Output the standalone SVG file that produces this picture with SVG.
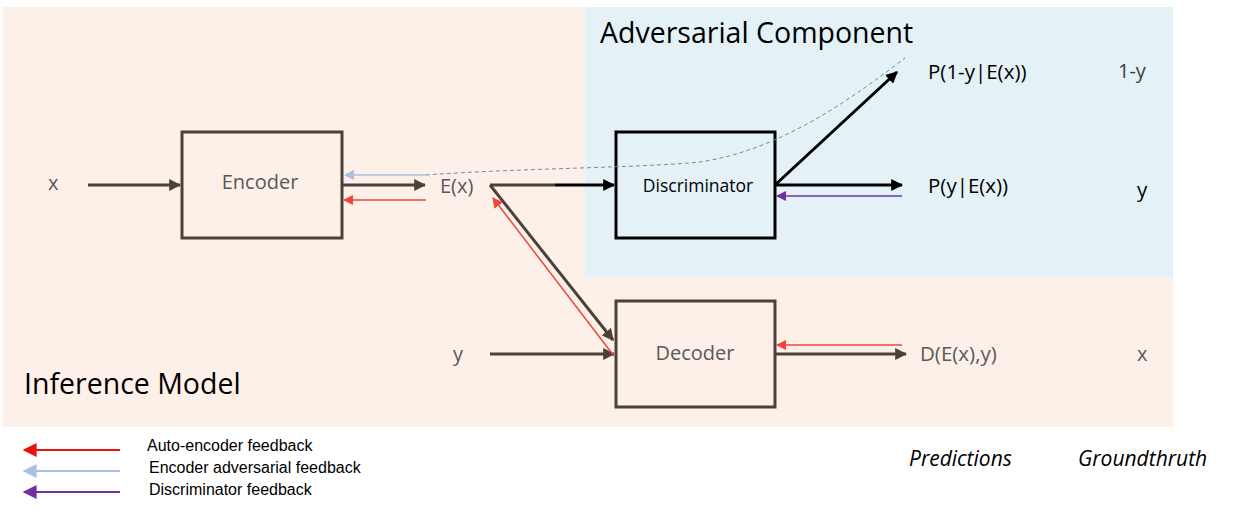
<svg xmlns="http://www.w3.org/2000/svg" width="1246" height="515" viewBox="0 0 1246 515">
<defs>
<style>
text{font-family:"Open Sans","Noto Sans",sans-serif}
.lbl{font-size:20px;fill:#595959}
.blk{font-size:20.5px;fill:#000}
.box{fill:none;stroke:#4d4039;stroke-width:3}
.ar{stroke:#4d4039;stroke-width:3;fill:none}
.ak{stroke:#000;stroke-width:3;fill:none}
.red{stroke:#f0453a;stroke-width:1.5;fill:none}
.leg{font-family:"Liberation Sans",sans-serif;font-size:16px;fill:#000}
</style>
<marker id="mb" viewBox="0 0 10 10" refX="9" refY="5" markerWidth="4" markerHeight="4" orient="auto"><path d="M0,0L10,5L0,10z" fill="#4d4039"/></marker>
<marker id="mk" viewBox="0 0 10 10" refX="9" refY="5" markerWidth="4" markerHeight="4" orient="auto"><path d="M0,0L10,5L0,10z" fill="#000"/></marker>
<marker id="mr" viewBox="0 0 10 10" refX="9" refY="5" markerWidth="7" markerHeight="7" orient="auto"><path d="M0,0L10,5L0,10z" fill="#f0453a"/></marker>
<marker id="mR" viewBox="0 0 10 10" refX="9" refY="5" markerWidth="7" markerHeight="7" orient="auto"><path d="M0,0L10,5L0,10z" fill="#e8140c"/></marker>
<marker id="ml" viewBox="0 0 10 10" refX="9" refY="5" markerWidth="7" markerHeight="7" orient="auto"><path d="M0,0L10,5L0,10z" fill="#a7c0e3"/></marker>
<marker id="mp" viewBox="0 0 10 10" refX="9" refY="5" markerWidth="7" markerHeight="7" orient="auto"><path d="M0,0L10,5L0,10z" fill="#7030a0"/></marker>
</defs>
<rect width="1246" height="515" fill="#fff"/>
<rect x="3" y="7" width="1170" height="420" fill="#fdf0e8"/>
<rect x="585" y="7" width="588" height="270" fill="#e4f2f7"/>
<text x="600" y="43" style="font-size:28.5px" fill="#000">Adversarial Component</text>
<text x="24" y="394" style="font-size:28.5px" fill="#000">Inference Model</text>
<g id="encoder"><rect class="box" x="182" y="132" width="160" height="106"/><text class="lbl" x="260" y="189" text-anchor="middle">Encoder</text></g>
<g id="discriminator"><rect x="616" y="132" width="159" height="106" fill="none" stroke="#000" stroke-width="3"/><text x="698" y="192" text-anchor="middle" style="font-size:17.5px" fill="#000">Discriminator</text></g>
<g id="decoder"><rect class="box" x="616" y="301" width="159" height="106"/><text class="lbl" x="695" y="360" text-anchor="middle">Decoder</text></g>
<g id="labels">
<text class="lbl" x="48" y="190">x</text>
<text class="lbl" x="440" y="193">E(x)</text>
<text class="lbl" x="453" y="361">y</text>
<text class="blk" x="928" y="79">P(1-y|E(x))</text>
<text class="blk" x="928" y="193">P(y|E(x))</text>
<text class="lbl" x="920" y="361" style="font-size:20.5px">D(E(x),y)</text>
<text x="1118" y="78" style="font-size:20px" fill="#404040">1-y</text>
<text class="blk" x="1137" y="197">y</text>
<text class="lbl" x="1137" y="361">x</text>
<text x="909" y="466" style="font-size:21px;font-style:italic" fill="#000">Predictions</text>
<text x="1078" y="466" style="font-size:21px;font-style:italic" fill="#000">Groundthruth</text>
</g>
<g id="connectors">
<line class="ar" x1="88" y1="185" x2="180" y2="185" marker-end="url(#mb)"/>
<line class="ar" x1="342" y1="185" x2="425" y2="185" marker-end="url(#mb)"/>
<line class="ar" x1="490" y1="185" x2="555" y2="185"/>
<line class="ak" x1="555" y1="185" x2="614" y2="185" marker-end="url(#mk)"/>
<line class="ar" x1="490" y1="185" x2="613" y2="340" marker-end="url(#mb)"/>
<line class="ar" x1="490" y1="354" x2="614" y2="354" marker-end="url(#mb)"/>
<line class="ar" x1="775" y1="354" x2="906" y2="354" marker-end="url(#mb)"/>
<line class="ak" x1="775" y1="185" x2="902" y2="185" marker-end="url(#mk)"/>
<line class="ak" x1="775" y1="185" x2="897" y2="72" marker-end="url(#mk)"/>
<line x1="902" y1="196" x2="777" y2="196" stroke="#7030a0" stroke-width="1.5" marker-end="url(#mp)"/>
<line class="red" x1="902" y1="345" x2="777" y2="345" marker-end="url(#mr)"/>
<line class="red" x1="614" y1="356" x2="493" y2="198" marker-end="url(#mr)"/>
<line class="red" x1="426" y1="200" x2="344" y2="200" marker-end="url(#mr)"/>
<line x1="426" y1="175" x2="345" y2="175" stroke="#a7c0e3" stroke-width="1.5" marker-end="url(#ml)"/>
<path d="M426,175 C520,168 640,168 700,162 C780,150 850,100 905,58" fill="none" stroke="#6e8ba6" stroke-width="1" stroke-dasharray="4,3"/>
</g>
<g id="legend">
<line x1="120" y1="450" x2="24" y2="450" stroke="#e8140c" stroke-width="2" marker-end="url(#mR)"/>
<line x1="120" y1="471" x2="24" y2="471" stroke="#a7c0e3" stroke-width="2" marker-end="url(#ml)"/>
<line x1="120" y1="492" x2="24" y2="492" stroke="#7030a0" stroke-width="2" marker-end="url(#mp)"/>
<text class="leg" x="147" y="451">Auto-encoder feedback</text>
<text class="leg" x="149" y="473">Encoder adversarial feedback</text>
<text class="leg" x="149" y="495">Discriminator feedback</text>
</g>
</svg>
